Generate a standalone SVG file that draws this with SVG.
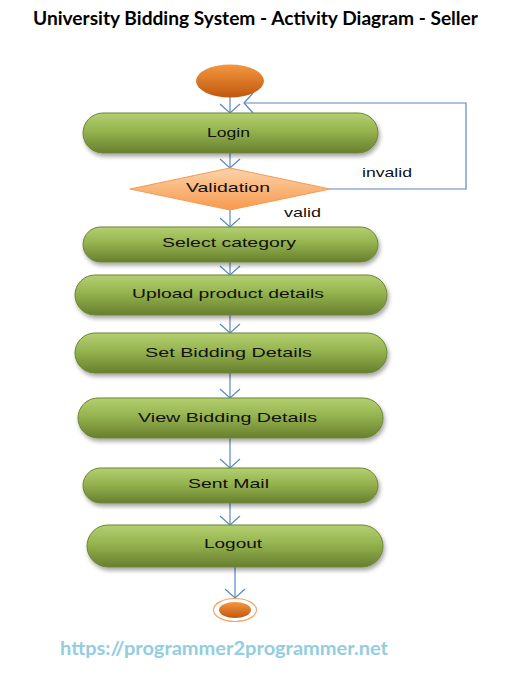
<svg xmlns="http://www.w3.org/2000/svg" width="526" height="676" viewBox="0 0 526 676">
<defs>
<style>
.pill{fill:url(#gGreen);stroke:#6b8733;stroke-width:1;filter:url(#sh)}
.lbl{font-family:"Liberation Sans",Arial,sans-serif;font-size:13px;fill:#111;text-anchor:start}
.con{fill:none;stroke:#5b86c0;stroke-width:1.2}
.ttl{font-family:Lato,"Open Sans",sans-serif;font-weight:bold;font-size:19px;fill:#000}
.url{font-family:Lato,"Open Sans",sans-serif;font-weight:bold;font-size:19px;fill:#92cde0}
</style>
<linearGradient id="gGreen" x1="0" y1="0" x2="0" y2="1">
<stop offset="0" stop-color="#b4cf70"/>
<stop offset="0.45" stop-color="#95b34f"/>
<stop offset="1" stop-color="#687f2e"/>
</linearGradient>
<linearGradient id="gDia" x1="0" y1="0" x2="0" y2="1">
<stop offset="0" stop-color="#fcd3ab"/>
<stop offset="1" stop-color="#f7994c"/>
</linearGradient>
<linearGradient id="gOr" x1="0" y1="0" x2="0" y2="1">
<stop offset="0" stop-color="#f4973f"/>
<stop offset="1" stop-color="#c0580f"/>
</linearGradient>
<filter id="sh" x="-10%" y="-30%" width="120%" height="170%">
<feDropShadow dx="1.5" dy="3" stdDeviation="2" flood-color="#000" flood-opacity="0.35"/>
</filter>
<marker id="ah" markerUnits="userSpaceOnUse" viewBox="-12 -12 14 24" markerWidth="14" markerHeight="24" refX="0" refY="0" orient="auto" overflow="visible">
<path d="M-9,-10 L0,0 L-9,10" fill="none" stroke="#5b86c0" stroke-width="1.2"/>
</marker>
</defs>
<rect width="526" height="676" fill="#fff"/>
<text class="ttl" x="33" y="25" textLength="445" lengthAdjust="spacingAndGlyphs">University Bidding System - Activity Diagram - Seller</text>

<g id="connectors">
<path class="con" d="M230,97 L230,113" marker-end="url(#ah)"/>
<path class="con" d="M230,153 L230,168" marker-end="url(#ah)"/>
<path class="con" d="M330,189 L466,189 L466,103 L244,103" marker-end="url(#ah)"/>
<path class="con" d="M230,210 L230,227" marker-end="url(#ah)"/>
<path class="con" d="M230,262 L230,275" marker-end="url(#ah)"/>
<path class="con" d="M230,315 L230,333" marker-end="url(#ah)"/>
<path class="con" d="M230,373 L230,398" marker-end="url(#ah)"/>
<path class="con" d="M230,438 L230,468" marker-end="url(#ah)"/>
<path class="con" d="M230,503 L230,525" marker-end="url(#ah)"/>
<path class="con" d="M235,567 L235,598" marker-end="url(#ah)"/>
<text class="lbl" x="362" y="177" textLength="50" lengthAdjust="spacingAndGlyphs">invalid</text>
<text class="lbl" x="284" y="217" textLength="37" lengthAdjust="spacingAndGlyphs">valid</text>
</g>

<g id="start">
<ellipse cx="230" cy="81" rx="34" ry="16.5" fill="url(#gOr)"/>
</g>
<g id="login">
<rect class="pill" x="83" y="113" width="295" height="40" rx="20" ry="20"/>
<text class="lbl" x="207" y="137" textLength="43" lengthAdjust="spacingAndGlyphs">Login</text>
</g>
<g id="validation">
<polygon points="230,168 330,189 230,210 130,189" fill="url(#gDia)" stroke="#f59a52" stroke-width="1"/>
<text class="lbl" x="186" y="192" textLength="84" lengthAdjust="spacingAndGlyphs">Validation</text>
</g>
<g id="select-category">
<rect class="pill" x="83" y="227" width="295" height="35" rx="17.5" ry="17.5"/>
<text class="lbl" x="162" y="247" textLength="134" lengthAdjust="spacingAndGlyphs">Select category</text>
</g>
<g id="upload">
<rect class="pill" x="75" y="275" width="312" height="40" rx="20" ry="20"/>
<text class="lbl" x="132" y="298" textLength="192" lengthAdjust="spacingAndGlyphs">Upload product details</text>
</g>
<g id="set-bidding">
<rect class="pill" x="75" y="333" width="312" height="40" rx="20" ry="20"/>
<text class="lbl" x="145" y="357" textLength="167" lengthAdjust="spacingAndGlyphs">Set Bidding Details</text>
</g>
<g id="view-bidding">
<rect class="pill" x="78" y="398" width="305" height="40" rx="20" ry="20"/>
<text class="lbl" x="138" y="422" textLength="179" lengthAdjust="spacingAndGlyphs">View Bidding Details</text>
</g>
<g id="sent-mail">
<rect class="pill" x="83" y="468" width="295" height="35" rx="17.5" ry="17.5"/>
<text class="lbl" x="188" y="488" textLength="81" lengthAdjust="spacingAndGlyphs">Sent Mail</text>
</g>
<g id="logout">
<rect class="pill" x="87" y="525" width="296" height="42" rx="21" ry="21"/>
<text class="lbl" x="204" y="548" textLength="58" lengthAdjust="spacingAndGlyphs">Logout</text>
</g>
<g id="end">
<ellipse cx="235" cy="610" rx="21.5" ry="11.5" fill="#fff" stroke="#f0a468" stroke-width="1.2"/>
<ellipse cx="235" cy="610" rx="16" ry="8" fill="url(#gOr)"/>
</g>
<text class="url" x="60" y="655" textLength="328" lengthAdjust="spacingAndGlyphs">https://programmer2programmer.net</text>
</svg>
